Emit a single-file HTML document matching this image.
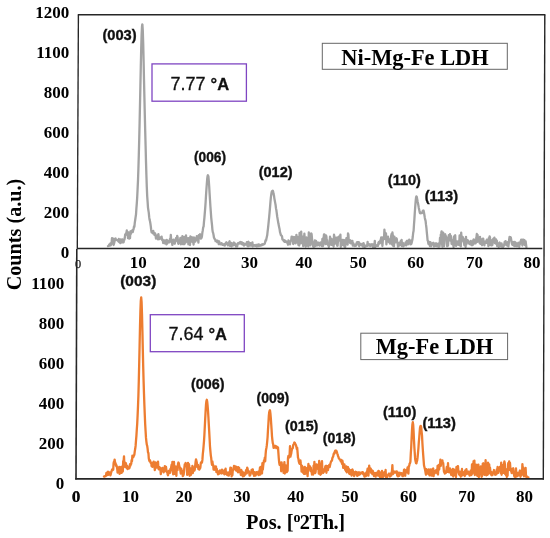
<!DOCTYPE html>
<html lang="en"><head><meta charset="utf-8"><title>XRD patterns</title>
<style>html,body{margin:0;padding:0;background:#fff}svg{display:block}</style></head>
<body>
<svg width="550" height="538" viewBox="0 0 550 538">
<rect width="550" height="538" fill="#fff"/>
<path d="M108.0,246.1 L108.4,246.0 L108.8,245.7 L109.2,244.6 L109.6,244.2 L110.0,245.5 L110.4,243.5 L110.8,245.4 L111.2,243.3 L111.6,243.0 L112.0,238.1 L112.4,243.7 L112.8,242.5 L113.2,238.6 L113.6,245.0 L114.0,243.8 L114.4,242.1 L114.8,238.9 L115.2,238.8 L115.6,238.5 L116.0,240.0 L116.4,239.9 L116.8,239.8 L117.2,240.2 L117.6,240.1 L118.0,240.9 L118.4,241.4 L118.8,239.0 L119.2,242.1 L119.6,240.1 L120.0,242.5 L120.4,243.1 L120.8,239.5 L121.2,242.0 L121.6,239.8 L122.0,242.4 L122.4,239.3 L122.8,240.8 L123.2,240.7 L123.6,242.4 L124.0,239.8 L124.4,239.8 L124.8,237.8 L125.2,234.5 L125.6,235.1 L126.0,233.4 L126.4,232.9 L126.8,230.5 L127.2,234.4 L127.6,232.0 L128.0,238.1 L128.4,233.3 L128.8,232.8 L129.2,238.7 L129.6,232.8 L130.0,238.1 L130.4,231.5 L130.8,234.0 L131.2,232.2 L131.6,230.9 L132.0,231.3 L132.4,230.3 L132.8,232.1 L133.2,230.0 L133.6,229.0 L134.0,226.4 L134.4,226.7 L134.8,222.7 L135.2,220.0 L135.6,217.1 L136.0,214.5 L136.4,208.4 L136.8,203.4 L137.2,197.2 L137.6,189.0 L138.0,180.4 L138.4,168.7 L138.8,155.3 L139.2,140.1 L139.6,123.2 L140.0,104.6 L140.4,85.5 L140.8,66.4 L141.2,49.0 L141.6,35.1 L142.0,26.5 L142.3,24.4 L142.4,24.6 L142.8,30.7 L143.2,43.2 L143.6,60.2 L144.0,79.5 L144.4,97.1 L144.8,114.5 L145.2,130.8 L145.6,145.8 L146.0,161.6 L146.4,175.0 L146.8,187.0 L147.2,196.1 L147.6,201.7 L148.0,207.6 L148.4,210.4 L148.8,212.9 L149.2,217.2 L149.6,219.8 L150.0,221.3 L150.4,223.5 L150.8,226.4 L151.2,230.0 L151.6,232.4 L152.0,232.0 L152.4,232.5 L152.8,233.4 L153.2,230.8 L153.6,233.0 L154.0,232.6 L154.4,234.8 L154.8,233.1 L155.2,233.7 L155.6,235.9 L156.0,238.6 L156.4,238.5 L156.8,235.9 L157.2,236.5 L157.6,235.1 L158.0,239.4 L158.4,234.2 L158.8,237.3 L159.2,238.1 L159.6,239.0 L160.0,238.0 L160.4,237.4 L160.8,237.4 L161.2,238.2 L161.6,236.6 L162.0,239.8 L162.4,239.4 L162.8,240.5 L163.2,243.0 L163.6,241.6 L164.0,240.4 L164.4,240.8 L164.8,243.4 L165.2,241.1 L165.6,240.4 L166.0,242.2 L166.4,244.4 L166.8,240.0 L167.2,243.5 L167.6,240.8 L168.0,242.0 L168.4,240.9 L168.8,242.3 L169.2,242.3 L169.6,241.7 L170.0,238.9 L170.4,241.1 L170.8,234.9 L171.2,239.5 L171.6,242.3 L172.0,243.0 L172.4,244.9 L172.8,242.1 L173.2,239.8 L173.6,239.7 L174.0,242.8 L174.4,243.3 L174.8,243.7 L175.2,240.4 L175.6,241.3 L176.0,238.2 L176.4,238.1 L176.8,238.9 L177.2,236.0 L177.6,237.1 L178.0,242.7 L178.4,243.8 L178.8,242.0 L179.2,240.8 L179.6,241.4 L180.0,240.0 L180.4,238.0 L180.8,244.3 L181.2,242.0 L181.6,241.8 L182.0,240.6 L182.4,236.1 L182.8,244.2 L183.2,241.2 L183.6,241.1 L184.0,237.2 L184.4,244.1 L184.8,236.8 L185.2,240.6 L185.6,242.5 L186.0,235.4 L186.4,241.0 L186.8,239.2 L187.2,241.6 L187.6,239.5 L188.0,238.3 L188.4,244.3 L188.8,238.1 L189.2,238.1 L189.6,239.3 L190.0,245.0 L190.4,236.3 L190.8,239.0 L191.2,237.1 L191.6,241.5 L192.0,238.3 L192.4,237.5 L192.8,242.0 L193.2,241.8 L193.6,244.5 L194.0,237.4 L194.4,237.9 L194.8,239.4 L195.2,241.7 L195.6,239.8 L196.0,238.8 L196.4,238.4 L196.8,236.1 L197.2,237.3 L197.6,240.6 L198.0,236.9 L198.4,242.7 L198.8,235.3 L199.2,234.9 L199.6,235.0 L200.0,234.3 L200.4,236.0 L200.8,238.7 L201.2,238.3 L201.6,237.7 L202.0,235.9 L202.4,232.4 L202.8,230.2 L203.2,227.3 L203.6,226.6 L204.0,221.6 L204.4,217.8 L204.8,212.9 L205.2,208.2 L205.6,202.5 L206.0,195.6 L206.4,189.7 L206.8,184.0 L207.2,179.0 L207.6,176.0 L207.9,175.3 L208.0,175.4 L208.4,176.4 L208.8,180.8 L209.2,186.5 L209.6,193.5 L210.0,199.8 L210.4,206.3 L210.8,211.7 L211.2,217.4 L211.6,221.4 L212.0,224.9 L212.4,229.6 L212.8,232.1 L213.2,233.1 L213.6,235.2 L214.0,237.7 L214.4,238.4 L214.8,239.3 L215.2,239.5 L215.6,241.2 L216.0,240.6 L216.4,240.8 L216.8,240.6 L217.2,242.1 L217.6,240.6 L218.0,241.1 L218.4,242.0 L218.8,244.2 L219.2,241.5 L219.6,242.9 L220.0,244.0 L220.4,244.0 L220.8,244.3 L221.2,244.3 L221.6,243.2 L222.0,244.2 L222.4,244.7 L222.8,244.1 L223.2,244.9 L223.6,245.1 L224.0,244.3 L224.4,244.6 L224.8,245.6 L225.2,243.6 L225.6,244.3 L226.0,242.8 L226.4,242.3 L226.8,244.1 L227.2,243.5 L227.6,243.9 L228.0,245.4 L228.4,244.9 L228.8,242.4 L229.2,242.7 L229.6,241.3 L230.0,245.9 L230.4,243.0 L230.8,242.8 L231.2,243.0 L231.6,246.3 L232.0,244.4 L232.4,244.9 L232.8,243.3 L233.2,245.3 L233.6,244.2 L234.0,242.5 L234.4,243.8 L234.8,244.9 L235.2,243.5 L235.6,245.0 L236.0,246.4 L236.4,245.6 L236.8,245.6 L237.2,246.4 L237.6,244.2 L238.0,243.1 L238.4,243.4 L238.8,243.6 L239.2,243.7 L239.6,242.5 L240.0,242.2 L240.4,243.2 L240.8,242.0 L241.2,243.4 L241.6,244.1 L242.0,242.4 L242.4,242.9 L242.8,244.5 L243.2,243.7 L243.6,243.1 L244.0,245.5 L244.4,244.9 L244.8,244.2 L245.2,244.2 L245.6,244.2 L246.0,244.5 L246.4,243.6 L246.8,242.2 L247.2,243.7 L247.6,246.1 L248.0,242.0 L248.4,241.8 L248.8,246.1 L249.2,245.3 L249.6,244.6 L250.0,243.0 L250.4,243.1 L250.8,245.7 L251.2,243.9 L251.6,245.6 L252.0,244.0 L252.4,242.3 L252.8,246.3 L253.2,245.5 L253.6,245.7 L254.0,245.3 L254.4,245.1 L254.8,245.5 L255.2,245.9 L255.6,245.9 L256.0,245.0 L256.4,245.2 L256.8,246.2 L257.2,244.8 L257.6,245.2 L258.0,244.6 L258.4,246.0 L258.8,244.4 L259.2,245.8 L259.6,244.8 L260.0,244.8 L260.4,245.1 L260.8,245.6 L261.2,245.2 L261.6,244.7 L262.0,245.1 L262.4,244.3 L262.8,244.6 L263.2,244.4 L263.6,244.5 L264.0,244.0 L264.4,244.0 L264.8,243.5 L265.2,241.9 L265.6,240.2 L266.0,240.7 L266.4,238.8 L266.8,237.1 L267.2,235.3 L267.6,231.7 L268.0,228.3 L268.4,224.7 L268.8,220.5 L269.2,216.7 L269.6,212.2 L270.0,207.6 L270.4,202.7 L270.8,198.2 L271.2,194.9 L271.6,192.3 L272.0,191.1 L272.4,191.0 L272.8,190.7 L273.2,191.9 L273.6,194.1 L274.0,195.6 L274.4,198.6 L274.8,200.7 L275.2,202.9 L275.6,205.0 L276.0,208.4 L276.4,210.3 L276.8,213.3 L277.2,216.5 L277.6,218.9 L278.0,221.2 L278.4,223.6 L278.8,225.5 L279.2,227.5 L279.6,229.3 L280.0,232.1 L280.4,233.3 L280.8,235.1 L281.2,235.2 L281.6,235.9 L282.0,236.2 L282.4,239.3 L282.8,239.4 L283.2,240.0 L283.6,240.8 L284.0,241.3 L284.4,240.3 L284.8,241.9 L285.2,241.3 L285.6,240.9 L286.0,241.4 L286.4,242.3 L286.8,242.5 L287.2,242.3 L287.6,242.6 L288.0,244.7 L288.4,240.4 L288.8,242.1 L289.2,241.3 L289.6,242.0 L290.0,244.3 L290.4,242.1 L290.8,240.9 L291.2,240.1 L291.6,236.6 L292.0,239.1 L292.4,239.3 L292.8,236.9 L293.2,244.0 L293.6,242.9 L294.0,240.1 L294.4,237.1 L294.8,239.6 L295.2,237.5 L295.6,243.4 L296.0,240.2 L296.4,234.8 L296.8,242.4 L297.2,241.4 L297.6,236.8 L298.0,240.3 L298.4,245.0 L298.8,237.9 L299.2,245.5 L299.6,232.9 L300.0,239.4 L300.4,242.5 L300.8,243.4 L301.2,231.6 L301.6,242.4 L302.0,237.0 L302.4,236.5 L302.8,238.9 L303.2,246.2 L303.6,241.1 L304.0,238.9 L304.4,233.7 L304.8,241.0 L305.2,240.9 L305.6,246.5 L306.0,246.0 L306.4,237.4 L306.8,245.6 L307.2,241.2 L307.6,243.2 L308.0,243.4 L308.4,246.3 L308.8,232.5 L309.2,236.7 L309.6,243.6 L310.0,234.2 L310.4,245.3 L310.8,239.6 L311.2,233.3 L311.6,234.0 L312.0,238.5 L312.4,243.6 L312.8,242.1 L313.2,246.6 L313.6,245.6 L314.0,246.7 L314.4,245.9 L314.8,240.5 L315.2,246.1 L315.6,245.8 L316.0,240.8 L316.4,245.0 L316.8,245.2 L317.2,245.4 L317.6,242.7 L318.0,242.4 L318.4,242.9 L318.8,243.6 L319.2,245.2 L319.6,245.6 L320.0,243.5 L320.4,242.5 L320.8,243.3 L321.2,243.7 L321.6,242.4 L322.0,246.0 L322.4,238.8 L322.8,246.2 L323.2,245.5 L323.6,238.2 L324.0,234.3 L324.4,234.3 L324.8,237.1 L325.2,240.7 L325.6,244.2 L326.0,235.3 L326.4,236.5 L326.8,242.8 L327.2,240.2 L327.6,244.2 L328.0,244.9 L328.4,243.9 L328.8,246.9 L329.2,243.0 L329.6,244.9 L330.0,236.7 L330.4,241.6 L330.8,238.4 L331.2,240.0 L331.6,244.8 L332.0,244.9 L332.4,239.3 L332.8,242.6 L333.2,244.0 L333.6,246.5 L334.0,234.7 L334.4,236.5 L334.8,243.9 L335.2,238.2 L335.6,241.4 L336.0,240.6 L336.4,237.6 L336.8,237.9 L337.2,245.8 L337.6,245.6 L338.0,240.2 L338.4,236.8 L338.8,239.7 L339.2,236.5 L339.6,237.3 L340.0,240.9 L340.4,234.6 L340.8,246.9 L341.2,239.8 L341.6,245.4 L342.0,243.9 L342.4,239.8 L342.8,242.7 L343.2,244.9 L343.6,240.9 L344.0,240.0 L344.4,246.6 L344.8,245.2 L345.2,246.9 L345.6,240.2 L346.0,242.9 L346.4,238.1 L346.8,243.1 L347.2,237.9 L347.6,244.6 L348.0,233.5 L348.4,234.6 L348.8,241.5 L349.2,240.5 L349.6,239.9 L350.0,242.8 L350.4,240.4 L350.8,243.3 L351.2,241.3 L351.6,243.2 L352.0,243.0 L352.4,240.8 L352.8,245.7 L353.2,243.1 L353.6,243.9 L354.0,245.7 L354.4,244.8 L354.8,246.0 L355.2,245.0 L355.6,244.5 L356.0,245.7 L356.4,244.1 L356.8,242.5 L357.2,242.2 L357.6,242.1 L358.0,242.1 L358.4,244.7 L358.8,242.1 L359.2,246.2 L359.6,243.8 L360.0,244.6 L360.4,244.8 L360.8,243.8 L361.2,244.7 L361.6,244.1 L362.0,245.5 L362.4,245.3 L362.8,246.5 L363.2,243.3 L363.6,243.2 L364.0,245.7 L364.4,247.0 L364.8,245.4 L365.2,246.0 L365.6,246.6 L366.0,245.6 L366.4,245.6 L366.8,245.1 L367.2,245.9 L367.6,241.8 L368.0,245.5 L368.4,244.2 L368.8,244.6 L369.2,244.1 L369.6,245.5 L370.0,244.5 L370.4,246.1 L370.8,244.3 L371.2,245.2 L371.6,244.9 L372.0,244.2 L372.4,245.1 L372.8,246.8 L373.2,246.7 L373.6,244.1 L374.0,247.0 L374.4,245.5 L374.8,240.8 L375.2,247.0 L375.6,246.2 L376.0,246.1 L376.4,246.0 L376.8,245.4 L377.2,245.0 L377.6,245.1 L378.0,245.9 L378.4,242.7 L378.8,242.0 L379.2,242.6 L379.6,243.5 L380.0,241.6 L380.4,240.4 L380.8,239.8 L381.2,237.5 L381.6,242.9 L382.0,239.8 L382.4,246.0 L382.8,240.9 L383.2,237.3 L383.6,236.7 L384.0,239.1 L384.4,229.7 L384.8,233.4 L385.2,238.6 L385.6,238.8 L386.0,233.5 L386.4,244.4 L386.8,239.1 L387.2,239.0 L387.6,239.1 L388.0,236.7 L388.4,239.0 L388.8,242.1 L389.2,242.1 L389.6,239.7 L390.0,243.6 L390.4,240.4 L390.8,242.9 L391.2,235.7 L391.6,233.9 L392.0,244.5 L392.4,232.5 L392.8,235.5 L393.2,245.9 L393.6,239.8 L394.0,246.3 L394.4,236.7 L394.8,241.4 L395.2,242.5 L395.6,240.7 L396.0,238.7 L396.4,238.3 L396.8,239.1 L397.2,242.7 L397.6,243.3 L398.0,246.5 L398.4,245.1 L398.8,242.9 L399.2,245.5 L399.6,242.6 L400.0,243.2 L400.4,245.0 L400.8,240.9 L401.2,244.8 L401.6,239.9 L402.0,246.2 L402.4,246.0 L402.8,242.8 L403.2,244.8 L403.6,246.2 L404.0,244.8 L404.4,244.6 L404.8,244.5 L405.2,243.5 L405.6,242.4 L406.0,245.4 L406.4,243.4 L406.8,241.0 L407.2,242.4 L407.6,241.6 L408.0,244.3 L408.4,240.5 L408.8,242.2 L409.2,239.6 L409.6,240.0 L410.0,240.6 L410.4,244.4 L410.8,242.8 L411.2,244.1 L411.6,243.1 L412.0,241.2 L412.4,239.6 L412.8,236.5 L413.2,232.7 L413.6,230.8 L414.0,224.5 L414.4,219.1 L414.8,212.6 L415.2,207.0 L415.6,201.8 L416.0,197.9 L416.4,196.3 L416.8,196.9 L417.2,199.2 L417.6,201.4 L418.0,203.3 L418.4,205.5 L418.8,207.9 L419.2,209.8 L419.6,211.9 L420.0,213.2 L420.4,213.3 L420.8,212.8 L421.2,213.0 L421.6,213.0 L422.0,213.0 L422.4,212.0 L422.8,210.9 L423.2,210.5 L423.6,210.6 L424.0,212.8 L424.4,215.0 L424.8,217.7 L425.2,219.7 L425.6,220.9 L426.0,224.7 L426.4,227.7 L426.8,232.1 L427.2,236.2 L427.6,240.5 L428.0,241.0 L428.4,243.8 L428.8,241.6 L429.2,242.2 L429.6,245.1 L430.0,246.1 L430.4,242.2 L430.8,244.5 L431.2,246.2 L431.6,243.3 L432.0,244.4 L432.4,243.8 L432.8,243.2 L433.2,242.8 L433.6,243.4 L434.0,246.3 L434.4,244.4 L434.8,245.2 L435.2,243.4 L435.6,245.9 L436.0,245.1 L436.4,243.4 L436.8,245.7 L437.2,246.2 L437.6,245.6 L438.0,245.8 L438.4,243.7 L438.8,246.6 L439.2,245.5 L439.6,246.2 L440.0,237.9 L440.4,243.4 L440.8,234.7 L441.2,233.5 L441.6,231.3 L442.0,242.8 L442.4,246.7 L442.8,241.1 L443.2,232.6 L443.6,234.9 L444.0,246.3 L444.4,236.1 L444.8,234.6 L445.2,234.2 L445.6,237.8 L446.0,236.2 L446.4,237.6 L446.8,243.9 L447.2,246.2 L447.6,240.3 L448.0,245.7 L448.4,240.1 L448.8,235.1 L449.2,240.1 L449.6,240.3 L450.0,234.2 L450.4,240.5 L450.8,235.8 L451.2,237.9 L451.6,243.8 L452.0,242.3 L452.4,244.3 L452.8,240.4 L453.2,243.7 L453.6,247.0 L454.0,236.5 L454.4,239.5 L454.8,236.1 L455.2,235.3 L455.6,244.2 L456.0,245.8 L456.4,241.1 L456.8,245.0 L457.2,243.5 L457.6,242.8 L458.0,241.4 L458.4,241.7 L458.8,244.9 L459.2,244.4 L459.6,235.5 L460.0,245.5 L460.4,237.2 L460.8,246.4 L461.2,232.6 L461.6,240.7 L462.0,240.5 L462.4,236.7 L462.8,237.1 L463.2,238.1 L463.6,241.8 L464.0,243.0 L464.4,245.2 L464.8,241.5 L465.2,239.2 L465.6,247.0 L466.0,236.8 L466.4,244.3 L466.8,240.5 L467.2,241.0 L467.6,240.1 L468.0,240.8 L468.4,241.9 L468.8,243.2 L469.2,241.8 L469.6,244.1 L470.0,244.1 L470.4,242.2 L470.8,240.9 L471.2,244.7 L471.6,245.1 L472.0,244.2 L472.4,244.0 L472.8,245.0 L473.2,240.4 L473.6,239.5 L474.0,243.7 L474.4,239.9 L474.8,239.7 L475.2,242.9 L475.6,243.4 L476.0,241.2 L476.4,238.0 L476.8,234.0 L477.2,241.9 L477.6,235.0 L478.0,240.0 L478.4,240.3 L478.8,241.2 L479.2,237.5 L479.6,242.9 L480.0,236.8 L480.4,243.9 L480.8,239.8 L481.2,240.5 L481.6,244.1 L482.0,245.2 L482.4,238.9 L482.8,238.6 L483.2,238.6 L483.6,242.0 L484.0,242.1 L484.4,245.3 L484.8,241.8 L485.2,242.9 L485.6,242.1 L486.0,241.1 L486.4,242.9 L486.8,239.6 L487.2,243.0 L487.6,240.4 L488.0,240.9 L488.4,246.2 L488.8,238.1 L489.2,239.5 L489.6,236.3 L490.0,237.4 L490.4,244.9 L490.8,239.8 L491.2,245.3 L491.6,243.0 L492.0,245.3 L492.4,244.9 L492.8,240.7 L493.2,239.0 L493.6,238.5 L494.0,239.5 L494.4,237.7 L494.8,243.0 L495.2,240.0 L495.6,243.6 L496.0,239.3 L496.4,242.6 L496.8,240.7 L497.2,246.2 L497.6,243.1 L498.0,245.1 L498.4,244.3 L498.8,246.8 L499.2,243.8 L499.6,242.5 L500.0,244.2 L500.4,245.7 L500.8,244.5 L501.2,246.6 L501.6,243.4 L502.0,245.8 L502.4,245.9 L502.8,245.5 L503.2,246.8 L503.6,246.1 L504.0,245.4 L504.4,243.4 L504.8,241.6 L505.2,244.7 L505.6,241.1 L506.0,244.5 L506.4,242.3 L506.8,243.4 L507.2,245.6 L507.6,242.4 L508.0,241.9 L508.4,246.3 L508.8,243.2 L509.2,239.1 L509.6,236.8 L510.0,237.8 L510.4,237.1 L510.8,237.5 L511.2,239.7 L511.6,242.2 L512.0,243.9 L512.4,244.9 L512.8,243.0 L513.2,242.0 L513.6,245.3 L514.0,242.7 L514.4,246.0 L514.8,242.0 L515.2,244.3 L515.6,242.7 L516.0,246.1 L516.4,243.1 L516.8,243.6 L517.2,244.5 L517.6,246.1 L518.0,243.9 L518.4,242.8 L518.8,246.3 L519.2,246.7 L519.6,244.6 L520.0,244.1 L520.4,241.6 L520.8,241.0 L521.2,239.6 L521.6,240.0 L522.0,239.9 L522.4,245.5 L522.8,239.6 L523.2,240.6 L523.6,239.7 L524.0,241.4 L524.4,240.1 L524.8,245.0 L525.2,242.1 L525.6,241.2 L526.0,244.1 L526.4,247.2" fill="none" stroke="#a3a3a3" stroke-width="2.3" stroke-linejoin="round" stroke-linecap="round"/>
<path d="M104.0,476.6 L104.4,476.4 L104.8,476.5 L105.2,476.0 L105.6,476.2 L106.0,475.8 L106.4,472.9 L106.8,474.1 L107.2,475.1 L107.6,472.3 L108.0,471.7 L108.4,474.8 L108.8,473.3 L109.2,472.3 L109.6,472.3 L110.0,472.9 L110.4,475.3 L110.8,474.1 L111.2,472.3 L111.6,471.0 L112.0,469.8 L112.4,469.3 L112.8,470.0 L113.2,469.7 L113.6,463.0 L114.0,461.6 L114.4,461.2 L114.6,459.6 L114.8,460.6 L115.2,463.1 L115.6,463.3 L116.0,465.7 L116.4,465.1 L116.8,466.5 L117.2,468.7 L117.6,472.7 L118.0,471.0 L118.4,467.9 L118.8,469.4 L119.2,466.8 L119.6,473.9 L120.0,471.4 L120.4,471.4 L120.8,468.4 L121.2,466.9 L121.6,472.8 L122.0,467.6 L122.4,466.4 L122.8,471.5 L123.2,461.1 L123.6,461.1 L124.0,456.3 L124.4,465.4 L124.8,463.8 L125.2,467.1 L125.6,462.8 L126.0,463.7 L126.4,465.3 L126.8,468.1 L127.2,465.8 L127.6,469.1 L128.0,467.5 L128.4,467.8 L128.8,467.1 L129.2,468.3 L129.6,467.7 L130.0,464.1 L130.4,465.6 L130.8,464.1 L131.2,463.9 L131.6,460.1 L132.0,461.1 L132.4,455.6 L132.8,456.3 L133.2,457.3 L133.6,456.1 L134.0,455.8 L134.4,454.4 L134.8,451.1 L135.2,448.8 L135.6,445.9 L136.0,440.7 L136.4,435.8 L136.8,429.5 L137.2,423.9 L137.6,415.6 L138.0,406.4 L138.4,395.5 L138.8,380.7 L139.2,363.8 L139.6,345.4 L140.0,326.4 L140.4,311.3 L140.8,300.9 L141.2,297.4 L141.6,302.2 L142.0,314.0 L142.4,330.9 L142.8,349.1 L143.2,366.4 L143.6,381.1 L144.0,393.9 L144.4,405.2 L144.8,415.2 L145.2,424.5 L145.6,431.3 L146.0,437.9 L146.4,441.6 L146.8,444.7 L147.2,445.8 L147.6,448.6 L148.0,452.5 L148.4,453.0 L148.8,458.5 L149.2,460.2 L149.6,461.2 L150.0,460.3 L150.4,462.0 L150.8,463.0 L151.2,462.8 L151.6,466.2 L152.0,463.7 L152.4,466.8 L152.8,463.9 L153.2,462.6 L153.6,461.6 L154.0,465.2 L154.4,465.6 L154.8,470.1 L155.2,468.1 L155.6,462.4 L156.0,464.0 L156.4,467.6 L156.8,464.9 L157.2,464.1 L157.6,466.7 L158.0,461.6 L158.4,468.3 L158.8,469.4 L159.2,466.9 L159.6,468.9 L160.0,467.7 L160.4,468.6 L160.8,474.1 L161.2,469.7 L161.6,468.5 L162.0,470.2 L162.4,467.8 L162.8,471.2 L163.2,469.1 L163.6,472.3 L164.0,468.2 L164.4,471.4 L164.8,466.2 L165.2,469.1 L165.6,468.4 L166.0,466.9 L166.4,470.2 L166.8,472.1 L167.2,471.2 L167.6,474.4 L168.0,475.3 L168.4,473.4 L168.8,470.9 L169.2,470.7 L169.6,471.7 L170.0,472.9 L170.4,469.0 L170.8,470.3 L171.2,466.9 L171.6,464.6 L172.0,468.2 L172.4,461.8 L172.8,471.5 L173.2,474.3 L173.6,467.0 L174.0,462.0 L174.4,473.8 L174.8,469.5 L175.2,466.4 L175.6,473.3 L176.0,470.4 L176.4,475.8 L176.8,466.5 L177.2,469.8 L177.6,469.9 L178.0,463.9 L178.4,462.5 L178.8,463.1 L179.2,465.6 L179.6,466.6 L180.0,467.5 L180.4,470.9 L180.8,473.5 L181.2,468.6 L181.6,470.5 L182.0,470.6 L182.4,471.9 L182.8,476.1 L183.2,475.5 L183.6,474.8 L184.0,471.5 L184.4,467.4 L184.8,464.2 L185.2,463.8 L185.6,463.0 L186.0,465.3 L186.4,466.2 L186.8,465.5 L187.2,474.9 L187.6,472.4 L188.0,462.8 L188.4,472.9 L188.8,463.9 L189.2,465.6 L189.6,475.8 L190.0,468.7 L190.4,468.5 L190.8,475.1 L191.2,473.3 L191.6,469.7 L192.0,471.4 L192.4,465.9 L192.8,473.2 L193.2,470.4 L193.6,469.4 L194.0,467.4 L194.4,470.5 L194.8,469.5 L195.2,465.5 L195.6,462.0 L196.0,459.4 L196.4,460.8 L196.8,462.6 L197.2,467.0 L197.6,465.2 L198.0,464.9 L198.4,469.1 L198.8,468.7 L199.2,469.6 L199.6,468.0 L200.0,468.6 L200.4,467.2 L200.8,463.0 L201.2,462.1 L201.6,462.9 L202.0,462.2 L202.4,459.9 L202.8,454.2 L203.2,450.6 L203.6,446.0 L204.0,441.1 L204.4,434.7 L204.8,426.7 L205.2,418.9 L205.6,411.2 L206.0,404.6 L206.4,401.1 L206.8,399.8 L207.2,401.5 L207.6,405.6 L208.0,410.7 L208.4,417.1 L208.8,424.4 L209.2,431.4 L209.6,438.8 L210.0,446.5 L210.4,451.2 L210.8,455.3 L211.2,457.9 L211.6,462.3 L212.0,464.8 L212.4,461.3 L212.8,464.5 L213.2,465.1 L213.6,469.7 L214.0,469.4 L214.4,469.8 L214.8,468.7 L215.2,466.5 L215.6,466.9 L216.0,466.5 L216.4,472.1 L216.8,468.8 L217.2,471.9 L217.6,470.9 L218.0,474.3 L218.4,471.6 L218.8,472.1 L219.2,472.2 L219.6,473.6 L220.0,470.5 L220.4,471.4 L220.8,471.4 L221.2,472.3 L221.6,473.5 L222.0,469.6 L222.4,471.1 L222.8,473.1 L223.2,470.9 L223.6,470.8 L224.0,473.1 L224.4,474.3 L224.8,469.9 L225.2,473.9 L225.6,468.6 L226.0,474.0 L226.4,471.8 L226.8,473.5 L227.2,474.8 L227.6,472.9 L228.0,475.3 L228.4,475.2 L228.8,475.5 L229.2,472.3 L229.6,471.6 L230.0,471.7 L230.4,467.6 L230.8,474.0 L231.2,467.9 L231.6,476.4 L232.0,471.3 L232.4,475.1 L232.8,469.8 L233.2,470.3 L233.6,469.3 L234.0,465.8 L234.4,468.9 L234.8,468.6 L235.2,468.5 L235.6,466.4 L236.0,470.5 L236.4,468.4 L236.8,467.2 L237.2,469.9 L237.6,471.5 L238.0,472.2 L238.4,467.2 L238.8,468.3 L239.2,468.0 L239.6,472.2 L240.0,471.1 L240.4,470.1 L240.8,474.9 L241.2,469.8 L241.6,471.9 L242.0,474.7 L242.4,471.6 L242.8,476.3 L243.2,472.5 L243.6,472.8 L244.0,476.0 L244.4,474.3 L244.8,473.1 L245.2,474.7 L245.6,472.2 L246.0,470.5 L246.4,469.6 L246.8,473.4 L247.2,467.7 L247.6,468.7 L248.0,471.6 L248.4,471.3 L248.8,471.1 L249.2,472.8 L249.6,475.5 L250.0,475.5 L250.4,474.8 L250.8,473.2 L251.2,472.6 L251.6,469.8 L252.0,471.4 L252.4,469.4 L252.8,469.3 L253.2,474.0 L253.6,471.9 L254.0,475.9 L254.4,472.1 L254.8,474.4 L255.2,474.5 L255.6,475.5 L256.0,474.0 L256.4,472.1 L256.8,474.1 L257.2,472.9 L257.6,473.8 L258.0,474.4 L258.4,471.7 L258.8,475.2 L259.2,472.4 L259.6,470.8 L260.0,467.4 L260.4,474.5 L260.8,466.8 L261.2,469.4 L261.6,468.8 L262.0,473.4 L262.4,463.1 L262.8,469.6 L263.2,465.6 L263.6,462.9 L264.0,460.4 L264.4,461.5 L264.8,457.7 L265.2,461.3 L265.6,454.4 L266.0,449.9 L266.4,448.0 L266.8,445.4 L267.2,441.5 L267.6,437.0 L268.0,429.5 L268.4,423.7 L268.8,416.2 L269.2,412.3 L269.6,410.8 L269.9,410.2 L270.0,410.3 L270.4,413.3 L270.8,417.9 L271.2,423.8 L271.6,429.6 L272.0,436.3 L272.4,440.1 L272.8,443.2 L273.2,444.4 L273.6,447.9 L274.0,445.7 L274.4,447.6 L274.8,446.4 L275.2,447.3 L275.6,445.8 L276.0,446.6 L276.4,448.2 L276.8,446.7 L277.2,447.4 L277.6,447.7 L278.0,447.4 L278.4,452.8 L278.8,458.5 L279.2,462.6 L279.6,464.8 L280.0,462.9 L280.4,462.6 L280.8,463.7 L281.2,471.3 L281.6,462.4 L282.0,469.7 L282.4,465.5 L282.8,466.2 L283.2,464.9 L283.6,472.9 L284.0,467.3 L284.4,462.1 L284.8,473.5 L285.2,465.1 L285.6,465.1 L286.0,466.2 L286.4,466.4 L286.8,472.1 L287.2,466.8 L287.6,470.9 L288.0,458.0 L288.4,455.9 L288.8,457.7 L289.2,456.7 L289.6,454.9 L290.0,446.2 L290.4,456.6 L290.8,455.0 L291.2,453.6 L291.6,450.8 L292.0,449.4 L292.4,448.4 L292.8,448.1 L293.2,445.0 L293.6,444.3 L294.0,443.5 L294.4,442.5 L294.8,442.9 L295.2,443.6 L295.6,444.6 L296.0,445.4 L296.4,446.9 L296.8,449.0 L297.2,447.8 L297.6,452.6 L298.0,457.6 L298.4,458.7 L298.8,461.5 L299.2,462.9 L299.6,463.7 L300.0,460.9 L300.4,460.4 L300.8,463.4 L301.2,465.1 L301.6,471.6 L302.0,465.8 L302.4,467.6 L302.8,467.3 L303.2,472.9 L303.6,470.0 L304.0,473.9 L304.4,467.9 L304.8,466.9 L305.2,473.8 L305.6,473.1 L306.0,467.9 L306.4,468.6 L306.8,470.3 L307.2,472.4 L307.6,476.1 L308.0,469.5 L308.4,464.0 L308.8,466.1 L309.2,468.4 L309.6,466.2 L310.0,466.5 L310.4,470.8 L310.8,467.6 L311.2,471.7 L311.6,471.3 L312.0,474.6 L312.4,472.9 L312.8,470.7 L313.2,474.5 L313.6,465.6 L314.0,469.5 L314.4,461.9 L314.8,470.4 L315.2,473.0 L315.6,472.0 L316.0,467.3 L316.4,464.4 L316.8,464.4 L317.2,466.5 L317.6,467.2 L318.0,469.0 L318.4,468.3 L318.8,473.6 L319.2,460.9 L319.6,469.0 L320.0,463.9 L320.4,474.8 L320.8,463.8 L321.2,473.9 L321.6,463.5 L322.0,461.2 L322.4,471.2 L322.8,469.1 L323.2,472.8 L323.6,470.4 L324.0,471.9 L324.4,469.1 L324.8,470.7 L325.2,467.0 L325.6,465.9 L326.0,465.9 L326.4,472.8 L326.8,466.0 L327.2,466.5 L327.6,466.2 L328.0,470.1 L328.4,465.8 L328.8,466.5 L329.2,465.0 L329.6,467.2 L330.0,465.4 L330.4,463.7 L330.8,462.3 L331.2,461.1 L331.6,461.1 L332.0,460.2 L332.4,458.0 L332.8,457.1 L333.2,456.4 L333.6,454.3 L334.0,453.3 L334.4,453.6 L334.8,451.6 L335.2,450.6 L335.6,452.4 L336.0,450.6 L336.4,450.8 L336.8,451.9 L337.2,453.3 L337.6,454.4 L338.0,455.9 L338.4,456.7 L338.8,458.3 L339.2,458.5 L339.6,459.4 L340.0,459.8 L340.4,459.8 L340.8,461.4 L341.2,459.9 L341.6,460.2 L342.0,463.8 L342.4,460.6 L342.8,463.0 L343.2,467.8 L343.6,466.0 L344.0,466.9 L344.4,464.5 L344.8,467.5 L345.2,469.7 L345.6,467.8 L346.0,471.1 L346.4,466.3 L346.8,472.3 L347.2,468.1 L347.6,469.4 L348.0,467.2 L348.4,469.5 L348.8,468.7 L349.2,473.7 L349.6,470.3 L350.0,474.2 L350.4,471.4 L350.8,470.2 L351.2,473.6 L351.6,475.5 L352.0,469.7 L352.4,469.5 L352.8,470.4 L353.2,472.7 L353.6,472.0 L354.0,476.0 L354.4,475.7 L354.8,473.9 L355.2,472.7 L355.6,471.7 L356.0,473.6 L356.4,473.0 L356.8,472.3 L357.2,475.8 L357.6,475.7 L358.0,473.9 L358.4,472.4 L358.8,474.8 L359.2,472.3 L359.6,474.6 L360.0,473.2 L360.4,473.9 L360.8,472.7 L361.2,473.3 L361.6,472.9 L362.0,472.3 L362.4,472.2 L362.8,472.1 L363.2,474.4 L363.6,474.5 L364.0,473.5 L364.4,476.5 L364.8,476.5 L365.2,473.5 L365.6,474.4 L366.0,476.1 L366.4,473.8 L366.8,471.6 L367.2,471.3 L367.6,468.6 L368.0,474.1 L368.4,475.7 L368.8,471.8 L369.2,465.7 L369.6,469.4 L370.0,470.7 L370.4,468.4 L370.8,468.8 L371.2,472.8 L371.6,470.2 L372.0,472.7 L372.4,474.1 L372.8,471.0 L373.2,473.6 L373.6,473.7 L374.0,476.1 L374.4,474.3 L374.8,472.9 L375.2,473.5 L375.6,476.7 L376.0,474.5 L376.4,473.2 L376.8,472.8 L377.2,474.3 L377.6,472.2 L378.0,475.7 L378.4,470.9 L378.8,471.1 L379.2,474.8 L379.6,476.0 L380.0,477.1 L380.4,473.0 L380.8,472.5 L381.2,477.3 L381.6,473.6 L382.0,471.0 L382.4,477.1 L382.8,476.4 L383.2,476.9 L383.6,474.8 L384.0,475.1 L384.4,472.1 L384.8,475.7 L385.2,474.2 L385.6,470.0 L386.0,477.1 L386.4,475.5 L386.8,475.1 L387.2,477.2 L387.6,475.5 L388.0,475.0 L388.4,474.7 L388.8,473.7 L389.2,473.6 L389.6,474.0 L390.0,476.5 L390.4,475.0 L390.8,473.5 L391.2,475.6 L391.6,472.9 L392.0,470.8 L392.4,465.2 L392.8,474.1 L393.2,473.7 L393.6,471.3 L394.0,472.1 L394.4,471.7 L394.8,472.5 L395.2,471.7 L395.6,472.6 L396.0,472.0 L396.4,471.3 L396.8,471.3 L397.2,475.7 L397.6,473.2 L398.0,476.4 L398.4,474.9 L398.8,472.7 L399.2,475.9 L399.6,473.8 L400.0,472.9 L400.4,473.7 L400.8,474.3 L401.2,474.3 L401.6,473.2 L402.0,473.3 L402.4,476.2 L402.8,476.2 L403.2,475.2 L403.6,474.3 L404.0,470.0 L404.4,469.4 L404.8,475.4 L405.2,475.8 L405.6,471.4 L406.0,470.5 L406.4,469.9 L406.8,472.4 L407.2,469.5 L407.6,467.4 L408.0,467.3 L408.4,473.6 L408.8,466.2 L409.2,466.1 L409.6,463.6 L410.0,463.2 L410.4,461.8 L410.8,453.6 L411.2,447.4 L411.6,438.5 L412.0,430.4 L412.4,424.4 L412.8,422.2 L413.2,424.7 L413.6,431.6 L414.0,440.3 L414.4,447.7 L414.8,453.7 L415.2,459.3 L415.6,461.3 L416.0,463.1 L416.4,463.4 L416.8,461.5 L417.2,460.4 L417.6,457.4 L418.0,452.9 L418.4,448.5 L418.8,442.4 L419.2,438.0 L419.6,432.7 L420.0,427.8 L420.4,426.2 L420.6,425.9 L420.8,425.9 L421.2,427.1 L421.6,431.6 L422.0,435.3 L422.4,443.0 L422.8,449.3 L423.2,454.8 L423.6,460.2 L424.0,465.3 L424.4,467.0 L424.8,468.6 L425.2,470.4 L425.6,472.9 L426.0,474.7 L426.4,469.1 L426.8,470.8 L427.2,473.7 L427.6,471.2 L428.0,470.7 L428.4,471.6 L428.8,469.3 L429.2,474.6 L429.6,475.4 L430.0,474.2 L430.4,474.1 L430.8,469.5 L431.2,471.3 L431.6,475.6 L432.0,472.7 L432.4,475.6 L432.8,469.0 L433.2,468.4 L433.6,476.1 L434.0,471.6 L434.4,473.4 L434.8,473.3 L435.2,471.4 L435.6,470.5 L436.0,472.4 L436.4,471.1 L436.8,469.7 L437.2,473.3 L437.6,465.9 L438.0,474.5 L438.4,466.9 L438.8,465.0 L439.2,469.5 L439.6,464.9 L440.0,465.6 L440.4,459.7 L440.8,465.9 L441.2,460.5 L441.6,461.8 L441.8,462.0 L442.0,462.7 L442.4,460.3 L442.8,463.4 L443.2,463.0 L443.6,467.8 L444.0,472.0 L444.4,471.5 L444.8,473.5 L445.2,472.0 L445.6,473.1 L446.0,472.5 L446.4,470.1 L446.8,467.0 L447.2,471.7 L447.6,471.9 L448.0,463.2 L448.4,470.5 L448.8,472.2 L449.2,469.6 L449.6,472.3 L450.0,468.5 L450.4,470.2 L450.8,470.9 L451.2,475.0 L451.6,471.0 L452.0,470.2 L452.4,469.9 L452.8,468.9 L453.2,476.5 L453.6,470.3 L454.0,469.6 L454.4,473.1 L454.8,474.9 L455.2,472.6 L455.6,475.1 L456.0,477.0 L456.4,467.2 L456.8,467.1 L457.2,467.7 L457.6,466.2 L458.0,466.2 L458.4,471.7 L458.8,473.6 L459.2,474.7 L459.6,471.7 L460.0,471.6 L460.4,475.3 L460.8,476.6 L461.2,473.5 L461.6,474.1 L462.0,469.0 L462.4,475.3 L462.8,474.0 L463.2,472.1 L463.6,474.5 L464.0,474.4 L464.4,474.5 L464.8,476.0 L465.2,470.3 L465.6,472.9 L466.0,474.2 L466.4,469.1 L466.8,474.0 L467.2,471.3 L467.6,471.3 L468.0,472.8 L468.4,471.6 L468.8,473.1 L469.2,474.4 L469.6,475.6 L470.0,473.3 L470.4,473.9 L470.8,470.5 L471.2,475.1 L471.6,474.5 L472.0,464.5 L472.4,473.6 L472.8,465.3 L473.2,465.6 L473.6,461.1 L474.0,469.8 L474.4,460.6 L474.8,475.0 L475.2,474.2 L475.6,464.7 L476.0,474.1 L476.4,467.1 L476.8,464.9 L477.2,475.8 L477.6,467.3 L478.0,469.4 L478.4,464.7 L478.8,477.3 L479.2,473.4 L479.6,468.9 L480.0,470.7 L480.4,469.4 L480.8,466.5 L481.2,473.5 L481.6,476.9 L482.0,476.0 L482.4,470.3 L482.8,463.6 L483.2,463.3 L483.6,467.6 L484.0,472.5 L484.4,474.9 L484.8,473.4 L485.2,469.4 L485.6,460.2 L486.0,470.0 L486.4,475.3 L486.8,466.2 L487.2,466.1 L487.6,474.8 L488.0,462.7 L488.4,463.6 L488.8,473.7 L489.2,464.3 L489.6,471.0 L490.0,467.7 L490.4,471.1 L490.8,471.9 L491.2,474.7 L491.6,475.2 L492.0,472.4 L492.4,475.1 L492.8,473.6 L493.2,472.7 L493.6,471.8 L494.0,470.0 L494.4,472.4 L494.8,472.0 L495.2,474.8 L495.6,474.1 L496.0,472.1 L496.4,474.3 L496.8,469.3 L497.2,471.6 L497.6,466.8 L498.0,472.9 L498.4,471.3 L498.8,468.6 L499.2,468.3 L499.6,467.9 L500.0,466.9 L500.4,466.5 L500.8,473.1 L501.2,462.6 L501.6,474.8 L502.0,464.9 L502.4,472.5 L502.8,471.9 L503.2,472.9 L503.6,472.5 L504.0,464.2 L504.4,461.4 L504.8,463.2 L505.2,474.2 L505.6,472.5 L506.0,475.1 L506.4,469.4 L506.8,477.0 L507.2,473.1 L507.6,475.6 L508.0,464.5 L508.4,462.8 L508.8,467.9 L509.2,461.3 L509.6,469.9 L510.0,462.9 L510.4,469.1 L510.8,470.6 L511.2,468.9 L511.6,473.0 L512.0,472.4 L512.4,471.2 L512.8,468.6 L513.2,468.2 L513.6,472.3 L514.0,474.8 L514.4,476.5 L514.8,474.7 L515.2,477.1 L515.6,474.4 L516.0,468.5 L516.4,476.5 L516.8,472.3 L517.2,473.5 L517.6,476.0 L518.0,473.4 L518.4,473.2 L518.8,472.7 L519.2,474.8 L519.6,471.4 L520.0,470.5 L520.4,476.8 L520.8,475.8 L521.2,473.6 L521.6,472.4 L522.0,474.6 L522.4,464.1 L522.8,470.6 L523.2,467.5 L523.6,472.3 L524.0,476.4 L524.4,473.3 L524.8,474.9 L525.2,471.9 L525.6,467.9 L526.0,475.8 L526.4,477.3 L526.8,477.4 L527.2,476.6 L527.6,477.1 L528.0,477.4 L528.4,477.4" fill="none" stroke="#ed7d31" stroke-width="2.3" stroke-linejoin="round" stroke-linecap="round"/>
<g stroke="#262626" fill="none">
<line x1="77.8" y1="14.7" x2="545.4" y2="14.7" stroke-width="1.35"/>
<line x1="78.4" y1="14.7" x2="77.3" y2="249" stroke-width="1.35"/>
<line x1="76.8" y1="249" x2="76" y2="479.4" stroke-width="1.6"/>
<line x1="544.8" y1="14.7" x2="543.3" y2="479.6" stroke-width="1.4"/>
<line x1="77" y1="248.5" x2="542.3" y2="248.5" stroke-width="1.3"/>
<line x1="75.2" y1="478.9" x2="544" y2="478.9" stroke-width="1.7"/>
</g>
<g font-family="Liberation Serif, serif" font-weight="bold" font-size="17" fill="#000" text-anchor="end">
<text x="69.2" y="18.1">1200</text>
<text x="69.2" y="58.1">1100</text>
<text x="69.2" y="98.0">800</text>
<text x="69.2" y="138.1">600</text>
<text x="69.2" y="178.1">400</text>
<text x="69.2" y="218.1">200</text>
<text x="69.2" y="257.6">0</text>
<text x="64.2" y="289.1">1100</text>
<text x="64.2" y="329.1">800</text>
<text x="64.2" y="369.1">600</text>
<text x="64.2" y="409.4">400</text>
<text x="64.2" y="449.4">200</text>
<text x="64.2" y="488.6">0</text>
</g>
<g font-family="Liberation Serif, serif" font-weight="bold" font-size="17" fill="#000" text-anchor="middle">
<text x="138.2" y="267.6">10</text>
<text x="191.8" y="267.6">20</text>
<text x="249.6" y="267.6">30</text>
<text x="303.9" y="267.6">40</text>
<text x="358.2" y="267.6">50</text>
<text x="415.7" y="267.6">60</text>
<text x="474.5" y="267.6">70</text>
<text x="532" y="267.6">80</text>
<text x="76.3" y="502.3">0</text>
<text x="130.6" y="502.3">10</text>
<text x="184" y="502.3">20</text>
<text x="242" y="502.3">30</text>
<text x="295.8" y="502.3">40</text>
<text x="350" y="502.3">50</text>
<text x="408.5" y="502.3">60</text>
<text x="466.7" y="502.3">70</text>
<text x="524.5" y="502.3">80</text>
</g>
<text x="78.1" y="268.4" font-family="Liberation Serif, serif" font-size="12.4" fill="#222" stroke="#222" stroke-width="0.25" text-anchor="middle">0</text>
<text x="75.6" y="502.1" font-family="Liberation Serif, serif" font-size="15" fill="#111" text-anchor="middle">0</text>
<text transform="translate(20.6,290.3) rotate(-90)" font-family="Liberation Serif, serif" font-weight="bold" font-size="20.2" fill="#000">Counts (a.u.)</text>
<text x="246" y="528.6" font-family="Liberation Serif, serif" font-weight="bold" font-size="20.4" fill="#000">Pos. [<tspan font-size="14" dy="-6.4" letter-spacing="-0.9">o</tspan><tspan dy="6.4" letter-spacing="-0.42">2Th.]</tspan></text>
<rect x="322.3" y="43.3" width="185" height="26" fill="#fff" stroke="#666" stroke-width="1"/>
<text x="415" y="64.6" font-family="Liberation Serif, serif" font-weight="bold" font-size="22.4" fill="#000" text-anchor="middle">Ni-Mg-Fe LDH</text>
<rect x="360.8" y="333.2" width="146.8" height="26.4" fill="#fff" stroke="#666" stroke-width="1"/>
<text x="434.5" y="354.2" font-family="Liberation Serif, serif" font-weight="bold" font-size="22.4" fill="#000" text-anchor="middle">Mg-Fe LDH</text>
<rect x="152" y="63.9" width="94.4" height="37.3" fill="#fff" stroke="#7f45c2" stroke-width="1.3"/>
<text x="170.5" y="89.6" font-family="Liberation Sans, sans-serif" font-size="18" fill="#111" stroke="#111" stroke-width="0.3">7.77 <tspan font-weight="bold" font-size="16.5">°A</tspan></text>
<rect x="150.3" y="314.7" width="94" height="37" fill="#fff" stroke="#7f45c2" stroke-width="1.3"/>
<text x="168.4" y="339.6" font-family="Liberation Sans, sans-serif" font-size="18" fill="#111" stroke="#111" stroke-width="0.3">7.64 <tspan font-weight="bold" font-size="16.5">°A</tspan></text>
<g font-family="Liberation Sans, sans-serif" font-weight="bold" font-size="14.8" fill="#111" stroke="#111" stroke-width="0.35">
<text x="102.4" y="40.0" textLength="34.3" lengthAdjust="spacingAndGlyphs">(003)</text>
<text x="194.0" y="161.6" textLength="32.1" lengthAdjust="spacingAndGlyphs">(006)</text>
<text x="258.7" y="176.5" textLength="33.9" lengthAdjust="spacingAndGlyphs">(012)</text>
<text x="387.8" y="184.5" textLength="33.1" lengthAdjust="spacingAndGlyphs">(110)</text>
<text x="424.7" y="201.3" textLength="33.4" lengthAdjust="spacingAndGlyphs">(113)</text>
<text x="120.2" y="286.1" textLength="36.1" lengthAdjust="spacingAndGlyphs">(003)</text>
<text x="191.1" y="389.3" textLength="33.5" lengthAdjust="spacingAndGlyphs">(006)</text>
<text x="256.5" y="402.7" textLength="32.8" lengthAdjust="spacingAndGlyphs">(009)</text>
<text x="284.9" y="430.6" textLength="33.5" lengthAdjust="spacingAndGlyphs">(015)</text>
<text x="322.8" y="443.3" textLength="33.0" lengthAdjust="spacingAndGlyphs">(018)</text>
<text x="382.9" y="417.2" textLength="33.5" lengthAdjust="spacingAndGlyphs">(110)</text>
<text x="422.4" y="427.7" textLength="33.5" lengthAdjust="spacingAndGlyphs">(113)</text>
</g>
</svg>
</body></html>
